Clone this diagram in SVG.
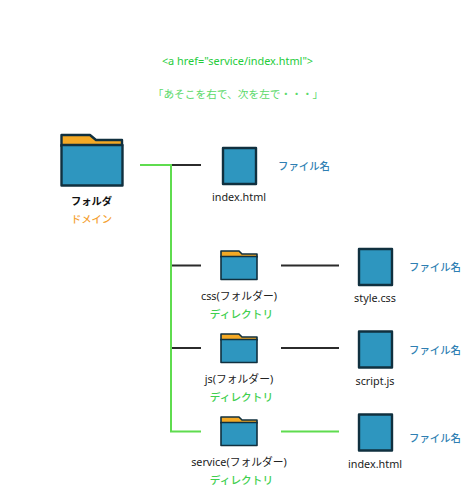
<svg xmlns="http://www.w3.org/2000/svg" width="474" height="504" viewBox="0 0 474 504">
<style>
text{font-family:"Noto Sans","Noto Sans CJK JP",sans-serif;font-size:10.8px;text-anchor:middle;fill:#222}
.fn{fill:#2f7fb3;font-size:10.400px;font-weight:500}
.dir{fill:#3fcf4f;font-size:10.700px;font-weight:500}
.blk{stroke:#2b2b2b;stroke-width:1.800;fill:none}
.grn{stroke:#5fdc4f;stroke-width:2;fill:none}
.body{fill:#2e96bf;stroke:#10303f;stroke-width:2.400;stroke-linejoin:round}
.tab{fill:#f4a925;stroke:#10303f;stroke-width:2.400;stroke-linejoin:round}
.sbody{fill:#2e96bf;stroke:#10303f;stroke-width:1.600;stroke-linejoin:round}
.stab{fill:#f4a925;stroke:#10303f;stroke-width:1.600;stroke-linejoin:round}
</style>
<defs>
<g id="small-folder">
<path class="stab" d="M0 7V1H18L21 4H36V7Z"/>
<rect class="sbody" x="0" y="6.500" width="36" height="23"/>
</g>
<rect id="file" class="body" width="33" height="36"/>
</defs>
<g id="connectors">
<path class="blk" d="M171 165H201M172 265.500H201M281 265.500H339M172 348H201M281 348H339"/>
<path class="grn" d="M140 165H171V431.500H201M281 431.500H339"/>
</g>
<g id="heading">
<text x="237.500" y="65" style="fill:#25cc3a;font-size:10.900px">&lt;a href="service/index.html"&gt;</text>
<text x="238" y="98" style="fill:#5cd96a;font-size:10.700px">「あそこを右で、次を左で・・・」</text>
</g>
<g id="root-folder">
<path class="tab" d="M61.500 146V135H90L96 140H122V146Z"/>
<rect class="body" x="61.500" y="145" width="61" height="40.500"/>
<text x="91.500" y="204.500" style="font-size:10.300px;font-weight:700;fill:#111">フォルダ</text>
<text x="91.500" y="223" style="fill:#f4a030;font-size:10.300px;font-weight:500">ドメイン</text>
</g>
<g id="file-index">
<use href="#file" x="223" y="148"/>
<text x="239" y="201">index.html</text>
<text class="fn" x="304" y="169.500">ファイル名</text>
</g>
<g id="folder-css">
<use href="#small-folder" x="221" y="250"/>
<text x="239" y="299.500">css(フォルダー)</text>
<text class="dir" x="241.500" y="317.500">ディレクトリ</text>
</g>
<g id="file-style">
<use href="#file" x="359" y="249"/>
<text x="375" y="302">style.css</text>
<text class="fn" x="435" y="270.500">ファイル名</text>
</g>
<g id="folder-js">
<use href="#small-folder" x="221" y="333"/>
<text x="239" y="382.500">js(フォルダー)</text>
<text class="dir" x="241.500" y="400.500">ディレクトリ</text>
</g>
<g id="file-script">
<use href="#file" x="359" y="331.500"/>
<text x="375" y="385">script.js</text>
<text class="fn" x="435" y="353.500">ファイル名</text>
</g>
<g id="folder-service">
<use href="#small-folder" x="221" y="416"/>
<text x="239" y="465.500">service(フォルダー)</text>
<text class="dir" x="241.500" y="484">ディレクトリ</text>
</g>
<g id="file-service-index">
<use href="#file" x="359" y="414.500"/>
<text x="375" y="468">index.html</text>
<text class="fn" x="435" y="442">ファイル名</text>
</g>
</svg>
